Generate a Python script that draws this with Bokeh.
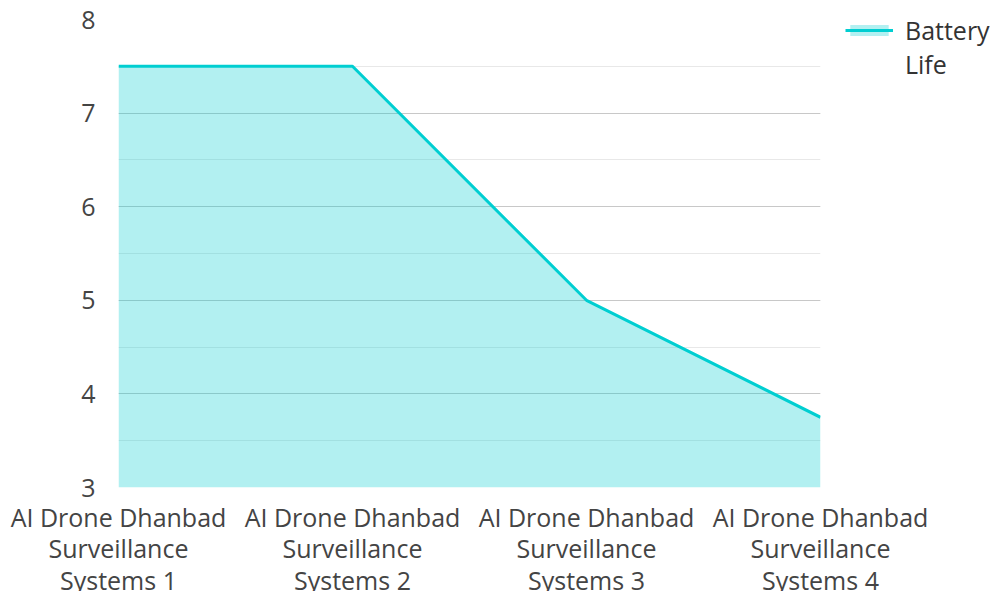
from bokeh.plotting import figure
from bokeh.models import Range1d, FixedTicker, SingleIntervalTicker, Legend, LegendItem, ColumnDataSource
from bokeh.embed import file_html
from bokeh.resources import INLINE

categories = ["AI Drone Dhanbad Surveillance Systems 1",
              "AI Drone Dhanbad Surveillance Systems 2",
              "AI Drone Dhanbad Surveillance Systems 3",
              "AI Drone Dhanbad Surveillance Systems 4"]
tick_labels = ["AI Drone Dhanbad\nSurveillance\nSystems 1",
               "AI Drone Dhanbad\nSurveillance\nSystems 2",
               "AI Drone Dhanbad\nSurveillance\nSystems 3",
               "AI Drone Dhanbad\nSurveillance\nSystems 4"]
battery_life = [7.5, 7.5, 5.0, 3.75]
series_name_lines = ["Battery", "Life"]
y_min, y_max = 3, 8

xs = list(range(len(categories)))
src = ColumnDataSource(dict(x=xs, y=battery_life, base=[y_min] * len(xs)))

FONT = "Open Sans"
COLOR = "#00CED1"

p = figure(frame_width=702, frame_height=468, output_backend="svg", toolbar_location=None,
           x_range=Range1d(0, len(xs) - 1), y_range=Range1d(y_min, y_max),
           min_border_left=118, min_border_right=10, min_border_top=19, min_border_bottom=0)
p.outline_line_color = None

area = p.varea(x="x", y1="base", y2="y", source=src, fill_color=COLOR, fill_alpha=0.3)
line = p.line(x="x", y="y", source=src, line_color=COLOR, line_width=3)

p.xaxis.ticker = FixedTicker(ticks=xs)
p.xaxis.major_label_overrides = {i: t for i, t in zip(xs, tick_labels)}
p.yaxis.ticker = SingleIntervalTicker(interval=1, num_minor_ticks=2)

for ax in (p.xaxis[0], p.yaxis[0]):
    ax.axis_line_color = None
    ax.major_tick_line_color = None
    ax.minor_tick_line_color = None
    ax.major_label_text_font = FONT
    ax.major_label_text_font_size = "25px"
    ax.major_label_text_color = "#444444"
    ax.major_label_text_line_height = 0.93
p.yaxis.major_label_standoff = 17
p.xaxis.major_label_standoff = 6

p.xgrid.grid_line_color = None
p.ygrid.grid_line_color = "#c8c8c8"
p.ygrid.minor_grid_line_color = "#e8e8e8"

legend = Legend(items=[LegendItem(label=series_name_lines[0], renderers=[area, line]),
                       LegendItem(label=series_name_lines[1], renderers=[])],
                location=(25, 406), margin=0, padding=0, spacing=0,
                glyph_width=48, glyph_height=14, label_standoff=12,
                label_height=20,
                label_text_font=FONT, label_text_font_size="25px",
                label_text_line_height=0.88,
                label_text_color="#333333", border_line_color=None,
                background_fill_alpha=0)
p.add_layout(legend, "right")
p.min_border_right = 170

open("out.html", "w").write(file_html(p, INLINE))
